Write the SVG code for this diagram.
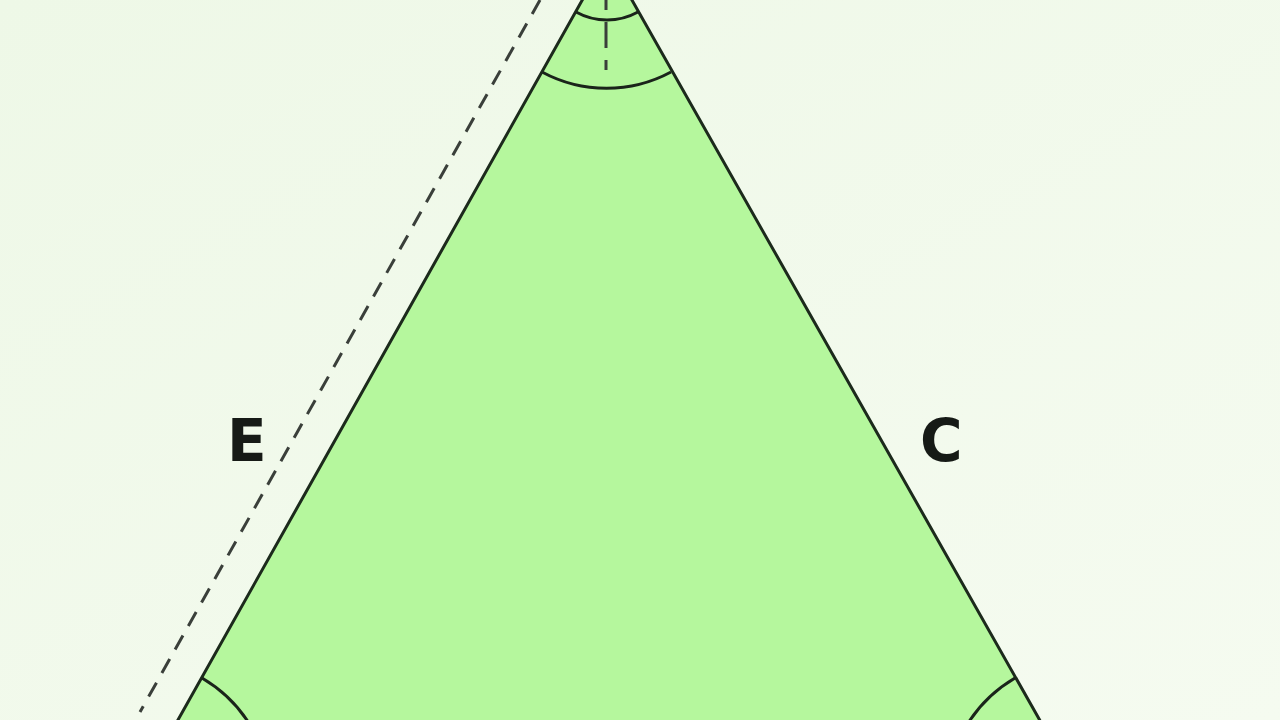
<svg xmlns="http://www.w3.org/2000/svg" width="1280" height="720" viewBox="0 0 1280 720">
  <defs>
    <linearGradient id="bg" x1="0" y1="0" x2="1" y2="1">
      <stop offset="0" stop-color="#eef8e7"/>
      <stop offset="1" stop-color="#f5fbf0"/>
    </linearGradient>
    <style>
      .edge{fill:none;stroke:#1c2a1c;stroke-width:3;stroke-linecap:round}
      .arc{fill:none;stroke:#1a241a;stroke-width:3}
      .dash{fill:none;stroke:#3a3f3a;stroke-width:3;stroke-dasharray:16 11}
      .lbl{font-family:"DejaVu Sans","Liberation Sans",sans-serif;font-weight:bold;font-size:58px;fill:#161a16}
    </style>
  </defs>
  <rect width="1280" height="720" fill="url(#bg)"/>
  <g id="triangle">
    <polygon points="607,-44 133,800 1085,800" fill="#b5f79d"/>
    <line class="edge" x1="607" y1="-44" x2="133" y2="800"/>
    <line class="edge" x1="607" y1="-44" x2="1085" y2="800"/>
  </g>
  <g id="angles">
    <path class="arc" d="M576,12 A64,64 0 0 0 638,12"/>
    <path class="arc" d="M542,72 A136,136 0 0 0 671,72"/>
    <path class="arc" d="M202,678 A140,140 0 0 1 262,750"/>
    <path class="arc" d="M1015,678 A140,140 0 0 0 955,750"/>
  </g>
  <g id="connectors">
    <line class="dash" x1="606" y1="0" x2="606" y2="70" style="stroke-dasharray:10 12 26 12 20"/>
    <line class="dash" x1="540" y1="0" x2="140" y2="712"/>
  </g>
  <g id="label-E"><text class="lbl" x="227" y="461">E</text></g>
  <g id="label-C"><text class="lbl" x="920" y="461">C</text></g>
</svg>
